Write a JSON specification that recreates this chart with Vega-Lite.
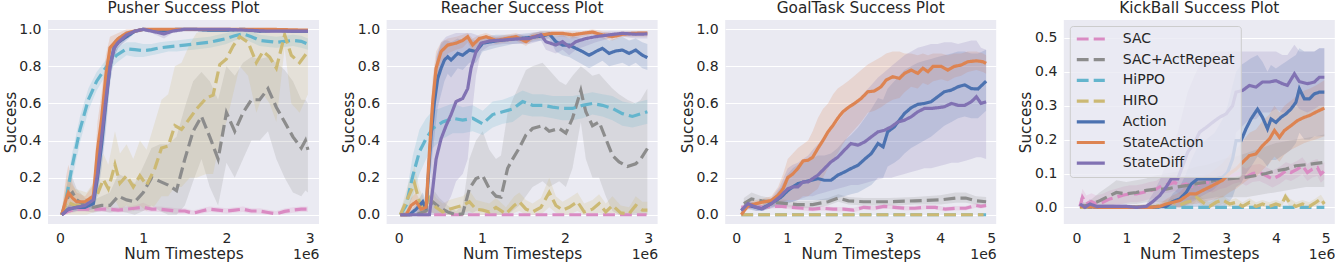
{
"$schema": "https://vega.github.io/schema/vega-lite/v6.json",
"background": "white",
"padding": {"left": 3, "top": 0, "right": 0, "bottom": 0},
"autosize": {"type": "pad"},
"bounds": "flush",
"spacing": 67.6,
"datasets": {
"P": [
{"s":"SAC","t":0.02,"m":0,"l":0,"h":0.015},{"s":"SAC","t":0.1,"m":0.02,"l":0.005,"h":0.035},{"s":"SAC","t":0.2,"m":0.03,"l":0.015,"h":0.045},{"s":"SAC","t":0.3,"m":0.03,"l":0.015,"h":0.045},{"s":"SAC","t":0.4,"m":0.03,"l":0.015,"h":0.045},{"s":"SAC","t":0.5,"m":0.03,"l":0.015,"h":0.045},{"s":"SAC","t":0.6,"m":0.03,"l":0.015,"h":0.045},{"s":"SAC","t":0.7,"m":0.025,"l":0.01,"h":0.04},{"s":"SAC","t":0.8,"m":0.03,"l":0.015,"h":0.045},{"s":"SAC","t":0.9,"m":0.035,"l":0.02,"h":0.05},{"s":"SAC","t":1.0,"m":0.04,"l":0.02,"h":0.065},{"s":"SAC","t":1.1,"m":0.03,"l":0.015,"h":0.045},{"s":"SAC","t":1.2,"m":0.03,"l":0.015,"h":0.045},{"s":"SAC","t":1.3,"m":0.025,"l":0.01,"h":0.04},{"s":"SAC","t":1.4,"m":0.02,"l":0.005,"h":0.035},{"s":"SAC","t":1.5,"m":0.02,"l":0.005,"h":0.035},{"s":"SAC","t":1.6,"m":0.008,"l":0,"h":0.023},{"s":"SAC","t":1.7,"m":0.02,"l":0.005,"h":0.035},{"s":"SAC","t":1.8,"m":0.03,"l":0.015,"h":0.045},{"s":"SAC","t":1.9,"m":0.025,"l":0.01,"h":0.04},{"s":"SAC","t":2.0,"m":0.02,"l":0.005,"h":0.035},{"s":"SAC","t":2.1,"m":0.025,"l":0.01,"h":0.04},{"s":"SAC","t":2.2,"m":0.03,"l":0.015,"h":0.045},{"s":"SAC","t":2.3,"m":0.02,"l":0.005,"h":0.035},{"s":"SAC","t":2.4,"m":0.02,"l":0.005,"h":0.035},{"s":"SAC","t":2.5,"m":0.012,"l":0,"h":0.027},{"s":"SAC","t":2.6,"m":0.005,"l":0,"h":0.02},{"s":"SAC","t":2.7,"m":0.018,"l":0.003,"h":0.033},{"s":"SAC","t":2.8,"m":0.025,"l":0.01,"h":0.04},{"s":"SAC","t":2.9,"m":0.03,"l":0.015,"h":0.045},{"s":"SAC","t":2.98,"m":0.03,"l":0.015,"h":0.045},
{"s":"SAC+ActRepeat","t":0.02,"m":0,"l":0,"h":0.02},{"s":"SAC+ActRepeat","t":0.1,"m":0.1,"l":0.03,"h":0.2},{"s":"SAC+ActRepeat","t":0.15,"m":0.12,"l":0.05,"h":0.2},{"s":"SAC+ActRepeat","t":0.2,"m":0.08,"l":0.03,"h":0.14},{"s":"SAC+ActRepeat","t":0.3,"m":0.05,"l":0.02,"h":0.09},{"s":"SAC+ActRepeat","t":0.4,"m":0.04,"l":0.01,"h":0.08},{"s":"SAC+ActRepeat","t":0.5,"m":0.05,"l":0.02,"h":0.1},{"s":"SAC+ActRepeat","t":0.6,"m":0.05,"l":0.01,"h":0.12},{"s":"SAC+ActRepeat","t":0.7,"m":0.1,"l":0.02,"h":0.22},{"s":"SAC+ActRepeat","t":0.8,"m":0.08,"l":0.01,"h":0.2},{"s":"SAC+ActRepeat","t":0.9,"m":0.07,"l":0,"h":0.17},{"s":"SAC+ActRepeat","t":1.0,"m":0.12,"l":0.02,"h":0.26},{"s":"SAC+ActRepeat","t":1.1,"m":0.2,"l":0.05,"h":0.36},{"s":"SAC+ActRepeat","t":1.2,"m":0.18,"l":0.02,"h":0.38},{"s":"SAC+ActRepeat","t":1.3,"m":0.16,"l":0,"h":0.38},{"s":"SAC+ActRepeat","t":1.4,"m":0.13,"l":0,"h":0.42},{"s":"SAC+ActRepeat","t":1.5,"m":0.3,"l":0.05,"h":0.58},{"s":"SAC+ActRepeat","t":1.6,"m":0.45,"l":0.18,"h":0.72},{"s":"SAC+ActRepeat","t":1.7,"m":0.53,"l":0.3,"h":0.77},{"s":"SAC+ActRepeat","t":1.8,"m":0.42,"l":0.15,"h":0.72},{"s":"SAC+ActRepeat","t":1.9,"m":0.3,"l":0.05,"h":0.62},{"s":"SAC+ActRepeat","t":2.0,"m":0.55,"l":0.28,"h":0.8},{"s":"SAC+ActRepeat","t":2.1,"m":0.45,"l":0.2,"h":0.75},{"s":"SAC+ActRepeat","t":2.2,"m":0.55,"l":0.3,"h":0.82},{"s":"SAC+ActRepeat","t":2.3,"m":0.62,"l":0.4,"h":0.85},{"s":"SAC+ActRepeat","t":2.4,"m":0.62,"l":0.4,"h":0.84},{"s":"SAC+ActRepeat","t":2.5,"m":0.68,"l":0.45,"h":0.85},{"s":"SAC+ActRepeat","t":2.6,"m":0.58,"l":0.3,"h":0.82},{"s":"SAC+ActRepeat","t":2.7,"m":0.5,"l":0.2,"h":0.78},{"s":"SAC+ActRepeat","t":2.8,"m":0.42,"l":0.12,"h":0.72},{"s":"SAC+ActRepeat","t":2.9,"m":0.36,"l":0.1,"h":0.62},{"s":"SAC+ActRepeat","t":2.95,"m":0.4,"l":0.13,"h":0.62},{"s":"SAC+ActRepeat","t":2.98,"m":0.35,"l":0.12,"h":0.6},
{"s":"HiPPO","t":0.02,"m":0,"l":0,"h":0.02},{"s":"HiPPO","t":0.06,"m":0.05,"l":0.02,"h":0.09},{"s":"HiPPO","t":0.14,"m":0.25,"l":0.18,"h":0.32},{"s":"HiPPO","t":0.24,"m":0.46,"l":0.39,"h":0.53},{"s":"HiPPO","t":0.34,"m":0.62,"l":0.56,"h":0.68},{"s":"HiPPO","t":0.44,"m":0.72,"l":0.67,"h":0.77},{"s":"HiPPO","t":0.56,"m":0.8,"l":0.76,"h":0.84},{"s":"HiPPO","t":0.68,"m":0.86,"l":0.82,"h":0.9},{"s":"HiPPO","t":0.8,"m":0.895,"l":0.86,"h":0.93},{"s":"HiPPO","t":0.9,"m":0.89,"l":0.85,"h":0.93},{"s":"HiPPO","t":1.0,"m":0.885,"l":0.85,"h":0.92},{"s":"HiPPO","t":1.1,"m":0.89,"l":0.86,"h":0.92},{"s":"HiPPO","t":1.2,"m":0.9,"l":0.87,"h":0.93},{"s":"HiPPO","t":1.3,"m":0.905,"l":0.88,"h":0.935},{"s":"HiPPO","t":1.4,"m":0.91,"l":0.88,"h":0.94},{"s":"HiPPO","t":1.5,"m":0.915,"l":0.885,"h":0.945},{"s":"HiPPO","t":1.6,"m":0.92,"l":0.89,"h":0.95},{"s":"HiPPO","t":1.7,"m":0.925,"l":0.895,"h":0.955},{"s":"HiPPO","t":1.8,"m":0.93,"l":0.9,"h":0.96},{"s":"HiPPO","t":1.9,"m":0.94,"l":0.91,"h":0.97},{"s":"HiPPO","t":2.0,"m":0.95,"l":0.92,"h":0.98},{"s":"HiPPO","t":2.1,"m":0.965,"l":0.94,"h":0.99},{"s":"HiPPO","t":2.2,"m":0.975,"l":0.95,"h":1.0},{"s":"HiPPO","t":2.3,"m":0.96,"l":0.93,"h":0.99},{"s":"HiPPO","t":2.4,"m":0.94,"l":0.91,"h":0.97},{"s":"HiPPO","t":2.5,"m":0.935,"l":0.905,"h":0.965},{"s":"HiPPO","t":2.6,"m":0.93,"l":0.9,"h":0.96},{"s":"HiPPO","t":2.7,"m":0.935,"l":0.905,"h":0.965},{"s":"HiPPO","t":2.8,"m":0.94,"l":0.91,"h":0.97},{"s":"HiPPO","t":2.9,"m":0.935,"l":0.9,"h":0.965},{"s":"HiPPO","t":2.98,"m":0.92,"l":0.89,"h":0.95},
{"s":"HIRO","t":0.02,"m":0,"l":0,"h":0.02},{"s":"HIRO","t":0.08,"m":0.07,"l":0,"h":0.2},{"s":"HIRO","t":0.18,"m":0.05,"l":0,"h":0.14},{"s":"HIRO","t":0.32,"m":0.05,"l":0,"h":0.12},{"s":"HIRO","t":0.44,"m":0.1,"l":0.02,"h":0.2},{"s":"HIRO","t":0.52,"m":0.19,"l":0.05,"h":0.33},{"s":"HIRO","t":0.58,"m":0.14,"l":0.03,"h":0.27},{"s":"HIRO","t":0.66,"m":0.27,"l":0.08,"h":0.45},{"s":"HIRO","t":0.72,"m":0.17,"l":0.03,"h":0.33},{"s":"HIRO","t":0.8,"m":0.21,"l":0.05,"h":0.38},{"s":"HIRO","t":0.88,"m":0.15,"l":0.02,"h":0.3},{"s":"HIRO","t":0.96,"m":0.21,"l":0.05,"h":0.4},{"s":"HIRO","t":1.04,"m":0.16,"l":0.02,"h":0.35},{"s":"HIRO","t":1.14,"m":0.25,"l":0.05,"h":0.5},{"s":"HIRO","t":1.22,"m":0.36,"l":0.1,"h":0.62},{"s":"HIRO","t":1.3,"m":0.37,"l":0.1,"h":0.65},{"s":"HIRO","t":1.38,"m":0.48,"l":0.15,"h":0.8},{"s":"HIRO","t":1.46,"m":0.46,"l":0.15,"h":0.82},{"s":"HIRO","t":1.56,"m":0.52,"l":0.2,"h":0.92},{"s":"HIRO","t":1.64,"m":0.57,"l":0.2,"h":0.98},{"s":"HIRO","t":1.76,"m":0.63,"l":0.22,"h":1.0},{"s":"HIRO","t":1.84,"m":0.645,"l":0.22,"h":1.0},{"s":"HIRO","t":1.92,"m":0.81,"l":0.4,"h":1.0},{"s":"HIRO","t":2.0,"m":0.84,"l":0.5,"h":1.0},{"s":"HIRO","t":2.08,"m":0.91,"l":0.65,"h":1.0},{"s":"HIRO","t":2.16,"m":0.96,"l":0.8,"h":1.0},{"s":"HIRO","t":2.26,"m":0.93,"l":0.75,"h":1.0},{"s":"HIRO","t":2.36,"m":0.82,"l":0.55,"h":1.0},{"s":"HIRO","t":2.44,"m":0.88,"l":0.65,"h":1.0},{"s":"HIRO","t":2.52,"m":0.85,"l":0.6,"h":1.0},{"s":"HIRO","t":2.6,"m":0.79,"l":0.5,"h":1.0},{"s":"HIRO","t":2.7,"m":0.97,"l":0.9,"h":1.0},{"s":"HIRO","t":2.78,"m":0.86,"l":0.6,"h":1.0},{"s":"HIRO","t":2.88,"m":0.82,"l":0.55,"h":1.0},{"s":"HIRO","t":2.98,"m":0.88,"l":0.65,"h":1.0},
{"s":"Action","t":0.02,"m":0,"l":0,"h":0.01},{"s":"Action","t":0.1,"m":0.03,"l":0.01,"h":0.05},{"s":"Action","t":0.2,"m":0.04,"l":0.02,"h":0.06},{"s":"Action","t":0.3,"m":0.04,"l":0.02,"h":0.06},{"s":"Action","t":0.4,"m":0.06,"l":0.03,"h":0.1},{"s":"Action","t":0.45,"m":0.2,"l":0.1,"h":0.3},{"s":"Action","t":0.5,"m":0.38,"l":0.25,"h":0.5},{"s":"Action","t":0.55,"m":0.6,"l":0.45,"h":0.75},{"s":"Action","t":0.6,"m":0.8,"l":0.7,"h":0.88},{"s":"Action","t":0.65,"m":0.9,"l":0.85,"h":0.94},{"s":"Action","t":0.7,"m":0.93,"l":0.9,"h":0.96},{"s":"Action","t":0.8,"m":0.96,"l":0.94,"h":0.98},{"s":"Action","t":0.9,"m":0.99,"l":0.98,"h":1.0},{"s":"Action","t":1.0,"m":1.0,"l":0.99,"h":1.0},{"s":"Action","t":1.2,"m":0.99,"l":0.98,"h":1.0},{"s":"Action","t":1.4,"m":1.0,"l":0.99,"h":1.0},{"s":"Action","t":1.6,"m":1.0,"l":0.99,"h":1.0},{"s":"Action","t":1.8,"m":0.995,"l":0.985,"h":1.0},{"s":"Action","t":2.0,"m":0.995,"l":0.985,"h":1.0},{"s":"Action","t":2.2,"m":1.0,"l":0.99,"h":1.0},{"s":"Action","t":2.4,"m":0.99,"l":0.98,"h":1.0},{"s":"Action","t":2.6,"m":0.995,"l":0.985,"h":1.0},{"s":"Action","t":2.8,"m":0.99,"l":0.98,"h":1.0},{"s":"Action","t":2.98,"m":0.99,"l":0.98,"h":1.0},
{"s":"StateAction","t":0.02,"m":0,"l":0,"h":0.02},{"s":"StateAction","t":0.07,"m":0.08,"l":0.02,"h":0.2},{"s":"StateAction","t":0.1,"m":0.12,"l":0.03,"h":0.27},{"s":"StateAction","t":0.15,"m":0.09,"l":0.03,"h":0.17},{"s":"StateAction","t":0.2,"m":0.07,"l":0.03,"h":0.12},{"s":"StateAction","t":0.3,"m":0.07,"l":0.04,"h":0.1},{"s":"StateAction","t":0.4,"m":0.1,"l":0.05,"h":0.16},{"s":"StateAction","t":0.45,"m":0.35,"l":0.2,"h":0.5},{"s":"StateAction","t":0.5,"m":0.52,"l":0.38,"h":0.66},{"s":"StateAction","t":0.55,"m":0.75,"l":0.62,"h":0.86},{"s":"StateAction","t":0.6,"m":0.9,"l":0.83,"h":0.96},{"s":"StateAction","t":0.7,"m":0.95,"l":0.92,"h":0.98},{"s":"StateAction","t":0.8,"m":0.98,"l":0.96,"h":1.0},{"s":"StateAction","t":0.9,"m":0.99,"l":0.98,"h":1.0},{"s":"StateAction","t":1.0,"m":1.0,"l":0.99,"h":1.0},{"s":"StateAction","t":1.5,"m":1.0,"l":0.99,"h":1.0},{"s":"StateAction","t":2.0,"m":1.0,"l":0.99,"h":1.0},{"s":"StateAction","t":2.5,"m":1.0,"l":0.99,"h":1.0},{"s":"StateAction","t":2.98,"m":0.995,"l":0.985,"h":1.0},
{"s":"StateDiff","t":0.02,"m":0,"l":0,"h":0.01},{"s":"StateDiff","t":0.1,"m":0.03,"l":0.01,"h":0.05},{"s":"StateDiff","t":0.2,"m":0.04,"l":0.02,"h":0.06},{"s":"StateDiff","t":0.3,"m":0.05,"l":0.03,"h":0.07},{"s":"StateDiff","t":0.4,"m":0.08,"l":0.04,"h":0.12},{"s":"StateDiff","t":0.45,"m":0.22,"l":0.12,"h":0.32},{"s":"StateDiff","t":0.5,"m":0.42,"l":0.3,"h":0.54},{"s":"StateDiff","t":0.55,"m":0.62,"l":0.5,"h":0.74},{"s":"StateDiff","t":0.6,"m":0.8,"l":0.72,"h":0.88},{"s":"StateDiff","t":0.65,"m":0.9,"l":0.85,"h":0.94},{"s":"StateDiff","t":0.7,"m":0.93,"l":0.9,"h":0.96},{"s":"StateDiff","t":0.8,"m":0.97,"l":0.95,"h":0.99},{"s":"StateDiff","t":0.9,"m":0.99,"l":0.98,"h":1.0},{"s":"StateDiff","t":1.0,"m":1.0,"l":0.99,"h":1.0},{"s":"StateDiff","t":1.1,"m":0.99,"l":0.98,"h":1.0},{"s":"StateDiff","t":1.25,"m":0.975,"l":0.95,"h":1.0},{"s":"StateDiff","t":1.35,"m":0.99,"l":0.98,"h":1.0},{"s":"StateDiff","t":1.5,"m":1.0,"l":0.99,"h":1.0},{"s":"StateDiff","t":2.0,"m":1.0,"l":0.99,"h":1.0},{"s":"StateDiff","t":2.5,"m":0.99,"l":0.98,"h":1.0},{"s":"StateDiff","t":2.98,"m":0.99,"l":0.98,"h":1.0}
],
"R": [
{"s":"SAC","t":0.02,"m":0,"l":0,"h":0.004},{"s":"SAC","t":1.0,"m":0,"l":0,"h":0.004},{"s":"SAC","t":2.0,"m":0,"l":0,"h":0.004},{"s":"SAC","t":2.98,"m":0,"l":0,"h":0.004},
{"s":"SAC+ActRepeat","t":0.02,"m":0,"l":0,"h":0.01},{"s":"SAC+ActRepeat","t":0.21,"m":0,"l":0,"h":0.01},{"s":"SAC+ActRepeat","t":0.33,"m":0.02,"l":0,"h":0.05},{"s":"SAC+ActRepeat","t":0.41,"m":0.07,"l":0.01,"h":0.14},{"s":"SAC+ActRepeat","t":0.49,"m":0.04,"l":0,"h":0.09},{"s":"SAC+ActRepeat","t":0.59,"m":0.015,"l":0,"h":0.05},{"s":"SAC+ActRepeat","t":0.69,"m":0,"l":0,"h":0.02},{"s":"SAC+ActRepeat","t":0.77,"m":0.005,"l":0,"h":0.05},{"s":"SAC+ActRepeat","t":0.85,"m":0.14,"l":0,"h":0.3},{"s":"SAC+ActRepeat","t":0.93,"m":0.195,"l":0.02,"h":0.4},{"s":"SAC+ActRepeat","t":1.01,"m":0.21,"l":0.03,"h":0.45},{"s":"SAC+ActRepeat","t":1.09,"m":0.14,"l":0,"h":0.35},{"s":"SAC+ActRepeat","t":1.17,"m":0.1,"l":0,"h":0.3},{"s":"SAC+ActRepeat","t":1.23,"m":0.095,"l":0,"h":0.32},{"s":"SAC+ActRepeat","t":1.31,"m":0.25,"l":0,"h":0.55},{"s":"SAC+ActRepeat","t":1.37,"m":0.3,"l":0.02,"h":0.62},{"s":"SAC+ActRepeat","t":1.45,"m":0.36,"l":0.05,"h":0.7},{"s":"SAC+ActRepeat","t":1.53,"m":0.43,"l":0.1,"h":0.78},{"s":"SAC+ActRepeat","t":1.61,"m":0.465,"l":0.15,"h":0.8},{"s":"SAC+ActRepeat","t":1.73,"m":0.48,"l":0.18,"h":0.82},{"s":"SAC+ActRepeat","t":1.81,"m":0.45,"l":0.15,"h":0.78},{"s":"SAC+ActRepeat","t":1.93,"m":0.465,"l":0.18,"h":0.72},{"s":"SAC+ActRepeat","t":2.01,"m":0.44,"l":0.15,"h":0.7},{"s":"SAC+ActRepeat","t":2.09,"m":0.52,"l":0.25,"h":0.75},{"s":"SAC+ActRepeat","t":2.19,"m":0.67,"l":0.5,"h":0.8},{"s":"SAC+ActRepeat","t":2.25,"m":0.555,"l":0.3,"h":0.78},{"s":"SAC+ActRepeat","t":2.33,"m":0.48,"l":0.2,"h":0.75},{"s":"SAC+ActRepeat","t":2.41,"m":0.5,"l":0.2,"h":0.76},{"s":"SAC+ActRepeat","t":2.49,"m":0.41,"l":0.1,"h":0.72},{"s":"SAC+ActRepeat","t":2.57,"m":0.32,"l":0.02,"h":0.68},{"s":"SAC+ActRepeat","t":2.65,"m":0.285,"l":0,"h":0.65},{"s":"SAC+ActRepeat","t":2.75,"m":0.26,"l":0,"h":0.62},{"s":"SAC+ActRepeat","t":2.85,"m":0.275,"l":0,"h":0.6},{"s":"SAC+ActRepeat","t":2.91,"m":0.3,"l":0,"h":0.62},{"s":"SAC+ActRepeat","t":2.99,"m":0.357,"l":0,"h":0.68},
{"s":"HiPPO","t":0.02,"m":0,"l":0,"h":0.02},{"s":"HiPPO","t":0.09,"m":0.05,"l":0.01,"h":0.1},{"s":"HiPPO","t":0.17,"m":0.21,"l":0.1,"h":0.32},{"s":"HiPPO","t":0.25,"m":0.34,"l":0.22,"h":0.46},{"s":"HiPPO","t":0.33,"m":0.41,"l":0.3,"h":0.52},{"s":"HiPPO","t":0.41,"m":0.465,"l":0.36,"h":0.56},{"s":"HiPPO","t":0.53,"m":0.5,"l":0.41,"h":0.58},{"s":"HiPPO","t":0.65,"m":0.52,"l":0.44,"h":0.6},{"s":"HiPPO","t":0.77,"m":0.51,"l":0.44,"h":0.58},{"s":"HiPPO","t":0.89,"m":0.52,"l":0.45,"h":0.59},{"s":"HiPPO","t":1.01,"m":0.49,"l":0.43,"h":0.56},{"s":"HiPPO","t":1.13,"m":0.54,"l":0.47,"h":0.61},{"s":"HiPPO","t":1.25,"m":0.555,"l":0.49,"h":0.62},{"s":"HiPPO","t":1.37,"m":0.57,"l":0.5,"h":0.64},{"s":"HiPPO","t":1.49,"m":0.61,"l":0.54,"h":0.67},{"s":"HiPPO","t":1.61,"m":0.59,"l":0.53,"h":0.65},{"s":"HiPPO","t":1.73,"m":0.59,"l":0.53,"h":0.65},{"s":"HiPPO","t":1.85,"m":0.58,"l":0.52,"h":0.64},{"s":"HiPPO","t":1.97,"m":0.573,"l":0.51,"h":0.64},{"s":"HiPPO","t":2.09,"m":0.573,"l":0.51,"h":0.64},{"s":"HiPPO","t":2.21,"m":0.59,"l":0.52,"h":0.65},{"s":"HiPPO","t":2.33,"m":0.6,"l":0.54,"h":0.66},{"s":"HiPPO","t":2.45,"m":0.59,"l":0.53,"h":0.65},{"s":"HiPPO","t":2.57,"m":0.573,"l":0.51,"h":0.64},{"s":"HiPPO","t":2.69,"m":0.545,"l":0.48,"h":0.61},{"s":"HiPPO","t":2.81,"m":0.53,"l":0.47,"h":0.6},{"s":"HiPPO","t":2.99,"m":0.555,"l":0.49,"h":0.62},
{"s":"HIRO","t":0.02,"m":0,"l":0,"h":0.02},{"s":"HIRO","t":0.11,"m":0.09,"l":0.02,"h":0.16},{"s":"HIRO","t":0.19,"m":0.17,"l":0.08,"h":0.26},{"s":"HIRO","t":0.25,"m":0.07,"l":0.01,"h":0.14},{"s":"HIRO","t":0.31,"m":0.03,"l":0,"h":0.08},{"s":"HIRO","t":0.37,"m":0.09,"l":0.02,"h":0.16},{"s":"HIRO","t":0.45,"m":0.04,"l":0,"h":0.09},{"s":"HIRO","t":0.53,"m":0.015,"l":0,"h":0.06},{"s":"HIRO","t":0.61,"m":0.03,"l":0,"h":0.08},{"s":"HIRO","t":0.69,"m":0.04,"l":0,"h":0.09},{"s":"HIRO","t":0.77,"m":0.05,"l":0.01,"h":0.1},{"s":"HIRO","t":0.85,"m":0.07,"l":0.02,"h":0.13},{"s":"HIRO","t":0.93,"m":0.03,"l":0,"h":0.08},{"s":"HIRO","t":1.01,"m":0.025,"l":0,"h":0.07},{"s":"HIRO","t":1.09,"m":0.015,"l":0,"h":0.06},{"s":"HIRO","t":1.17,"m":0.04,"l":0,"h":0.09},{"s":"HIRO","t":1.29,"m":0.005,"l":0,"h":0.04},{"s":"HIRO","t":1.39,"m":0.05,"l":0.01,"h":0.1},{"s":"HIRO","t":1.45,"m":0.07,"l":0.02,"h":0.12},{"s":"HIRO","t":1.53,"m":0.03,"l":0,"h":0.08},{"s":"HIRO","t":1.61,"m":0.015,"l":0,"h":0.06},{"s":"HIRO","t":1.71,"m":0.04,"l":0,"h":0.09},{"s":"HIRO","t":1.81,"m":0.12,"l":0.04,"h":0.2},{"s":"HIRO","t":1.89,"m":0.05,"l":0.01,"h":0.1},{"s":"HIRO","t":1.97,"m":0.025,"l":0,"h":0.07},{"s":"HIRO","t":2.05,"m":0.04,"l":0,"h":0.09},{"s":"HIRO","t":2.15,"m":0.07,"l":0.02,"h":0.12},{"s":"HIRO","t":2.23,"m":0.015,"l":0,"h":0.06},{"s":"HIRO","t":2.33,"m":0.03,"l":0,"h":0.08},{"s":"HIRO","t":2.41,"m":0.06,"l":0.01,"h":0.11},{"s":"HIRO","t":2.49,"m":0.015,"l":0,"h":0.06},{"s":"HIRO","t":2.57,"m":0.05,"l":0.01,"h":0.1},{"s":"HIRO","t":2.67,"m":0.01,"l":0,"h":0.05},{"s":"HIRO","t":2.77,"m":0.005,"l":0,"h":0.04},{"s":"HIRO","t":2.85,"m":0.05,"l":0.01,"h":0.1},{"s":"HIRO","t":2.93,"m":0.025,"l":0,"h":0.07},{"s":"HIRO","t":2.99,"m":0.025,"l":0,"h":0.07},
{"s":"Action","t":0.02,"m":0,"l":0,"h":0.01},{"s":"Action","t":0.13,"m":0,"l":0,"h":0.01},{"s":"Action","t":0.21,"m":0.03,"l":0,"h":0.06},{"s":"Action","t":0.29,"m":0.07,"l":0.02,"h":0.12},{"s":"Action","t":0.33,"m":0.03,"l":0,"h":0.07},{"s":"Action","t":0.39,"m":0.43,"l":0.25,"h":0.6},{"s":"Action","t":0.43,"m":0.61,"l":0.42,"h":0.78},{"s":"Action","t":0.47,"m":0.735,"l":0.58,"h":0.87},{"s":"Action","t":0.51,"m":0.79,"l":0.65,"h":0.92},{"s":"Action","t":0.55,"m":0.834,"l":0.72,"h":0.94},{"s":"Action","t":0.59,"m":0.852,"l":0.76,"h":0.94},{"s":"Action","t":0.63,"m":0.834,"l":0.74,"h":0.93},{"s":"Action","t":0.71,"m":0.87,"l":0.79,"h":0.95},{"s":"Action","t":0.77,"m":0.86,"l":0.78,"h":0.94},{"s":"Action","t":0.85,"m":0.888,"l":0.82,"h":0.95},{"s":"Action","t":0.93,"m":0.88,"l":0.82,"h":0.94},{"s":"Action","t":1.01,"m":0.925,"l":0.88,"h":0.96},{"s":"Action","t":1.17,"m":0.937,"l":0.9,"h":0.97},{"s":"Action","t":1.37,"m":0.948,"l":0.92,"h":0.97},{"s":"Action","t":1.57,"m":0.955,"l":0.93,"h":0.98},{"s":"Action","t":1.73,"m":0.964,"l":0.94,"h":0.99},{"s":"Action","t":1.81,"m":0.975,"l":0.95,"h":0.99},{"s":"Action","t":1.89,"m":0.933,"l":0.88,"h":0.98},{"s":"Action","t":1.97,"m":0.915,"l":0.86,"h":0.97},{"s":"Action","t":2.05,"m":0.915,"l":0.85,"h":0.97},{"s":"Action","t":2.13,"m":0.897,"l":0.83,"h":0.96},{"s":"Action","t":2.21,"m":0.88,"l":0.81,"h":0.95},{"s":"Action","t":2.29,"m":0.86,"l":0.79,"h":0.94},{"s":"Action","t":2.37,"m":0.88,"l":0.81,"h":0.95},{"s":"Action","t":2.45,"m":0.897,"l":0.83,"h":0.96},{"s":"Action","t":2.53,"m":0.87,"l":0.8,"h":0.94},{"s":"Action","t":2.61,"m":0.883,"l":0.81,"h":0.95},{"s":"Action","t":2.69,"m":0.888,"l":0.82,"h":0.96},{"s":"Action","t":2.77,"m":0.87,"l":0.8,"h":0.94},{"s":"Action","t":2.85,"m":0.888,"l":0.82,"h":0.95},{"s":"Action","t":2.93,"m":0.86,"l":0.79,"h":0.93},{"s":"Action","t":2.99,"m":0.847,"l":0.78,"h":0.92},
{"s":"StateAction","t":0.02,"m":0,"l":0,"h":0.01},{"s":"StateAction","t":0.09,"m":0,"l":0,"h":0.01},{"s":"StateAction","t":0.15,"m":0.05,"l":0.01,"h":0.09},{"s":"StateAction","t":0.21,"m":0.07,"l":0.02,"h":0.12},{"s":"StateAction","t":0.27,"m":0.03,"l":0,"h":0.06},{"s":"StateAction","t":0.33,"m":0.04,"l":0,"h":0.08},{"s":"StateAction","t":0.37,"m":0.34,"l":0.2,"h":0.48},{"s":"StateAction","t":0.41,"m":0.61,"l":0.48,"h":0.74},{"s":"StateAction","t":0.45,"m":0.79,"l":0.7,"h":0.88},{"s":"StateAction","t":0.51,"m":0.88,"l":0.82,"h":0.93},{"s":"StateAction","t":0.59,"m":0.915,"l":0.87,"h":0.95},{"s":"StateAction","t":0.69,"m":0.925,"l":0.89,"h":0.96},{"s":"StateAction","t":0.77,"m":0.94,"l":0.9,"h":0.97},{"s":"StateAction","t":0.83,"m":0.96,"l":0.93,"h":0.98},{"s":"StateAction","t":0.89,"m":0.915,"l":0.88,"h":0.95},{"s":"StateAction","t":0.97,"m":0.95,"l":0.92,"h":0.97},{"s":"StateAction","t":1.05,"m":0.96,"l":0.94,"h":0.98},{"s":"StateAction","t":1.17,"m":0.94,"l":0.92,"h":0.96},{"s":"StateAction","t":1.29,"m":0.95,"l":0.93,"h":0.97},{"s":"StateAction","t":1.41,"m":0.96,"l":0.94,"h":0.98},{"s":"StateAction","t":1.53,"m":0.933,"l":0.91,"h":0.96},{"s":"StateAction","t":1.61,"m":0.96,"l":0.94,"h":0.98},{"s":"StateAction","t":1.73,"m":0.97,"l":0.95,"h":0.99},{"s":"StateAction","t":1.85,"m":0.978,"l":0.96,"h":0.99},{"s":"StateAction","t":1.97,"m":0.978,"l":0.96,"h":0.99},{"s":"StateAction","t":2.09,"m":0.97,"l":0.95,"h":0.99},{"s":"StateAction","t":2.21,"m":0.978,"l":0.96,"h":0.99},{"s":"StateAction","t":2.33,"m":0.985,"l":0.97,"h":1.0},{"s":"StateAction","t":2.45,"m":0.97,"l":0.95,"h":0.99},{"s":"StateAction","t":2.57,"m":0.96,"l":0.94,"h":0.98},{"s":"StateAction","t":2.69,"m":0.973,"l":0.96,"h":0.99},{"s":"StateAction","t":2.81,"m":0.978,"l":0.96,"h":0.99},{"s":"StateAction","t":2.99,"m":0.98,"l":0.96,"h":0.99},
{"s":"StateDiff","t":0.02,"m":0,"l":0,"h":0.01},{"s":"StateDiff","t":0.37,"m":0,"l":0,"h":0.05},{"s":"StateDiff","t":0.41,"m":0.14,"l":0,"h":0.5},{"s":"StateDiff","t":0.45,"m":0.3,"l":0,"h":0.85},{"s":"StateDiff","t":0.51,"m":0.41,"l":0,"h":0.93},{"s":"StateDiff","t":0.57,"m":0.48,"l":0.05,"h":0.96},{"s":"StateDiff","t":0.63,"m":0.54,"l":0.1,"h":0.97},{"s":"StateDiff","t":0.69,"m":0.61,"l":0.18,"h":0.98},{"s":"StateDiff","t":0.77,"m":0.627,"l":0.22,"h":0.98},{"s":"StateDiff","t":0.83,"m":0.68,"l":0.3,"h":0.98},{"s":"StateDiff","t":0.87,"m":0.79,"l":0.5,"h":0.98},{"s":"StateDiff","t":0.93,"m":0.88,"l":0.75,"h":0.97},{"s":"StateDiff","t":0.99,"m":0.925,"l":0.88,"h":0.96},{"s":"StateDiff","t":1.09,"m":0.937,"l":0.91,"h":0.96},{"s":"StateDiff","t":1.25,"m":0.942,"l":0.92,"h":0.96},{"s":"StateDiff","t":1.41,"m":0.948,"l":0.92,"h":0.97},{"s":"StateDiff","t":1.57,"m":0.95,"l":0.92,"h":0.97},{"s":"StateDiff","t":1.71,"m":0.97,"l":0.94,"h":0.99},{"s":"StateDiff","t":1.77,"m":0.933,"l":0.89,"h":0.97},{"s":"StateDiff","t":1.89,"m":0.915,"l":0.87,"h":0.96},{"s":"StateDiff","t":1.97,"m":0.933,"l":0.89,"h":0.97},{"s":"StateDiff","t":2.05,"m":0.906,"l":0.86,"h":0.95},{"s":"StateDiff","t":2.13,"m":0.933,"l":0.89,"h":0.97},{"s":"StateDiff","t":2.25,"m":0.95,"l":0.91,"h":0.98},{"s":"StateDiff","t":2.37,"m":0.96,"l":0.93,"h":0.98},{"s":"StateDiff","t":2.53,"m":0.97,"l":0.95,"h":0.99},{"s":"StateDiff","t":2.69,"m":0.978,"l":0.96,"h":0.99},{"s":"StateDiff","t":2.85,"m":0.973,"l":0.95,"h":0.99},{"s":"StateDiff","t":2.99,"m":0.975,"l":0.95,"h":0.99}
],
"G": [
{"s":"SAC","t":0.1,"m":0.04,"l":0.028,"h":0.052},{"s":"SAC","t":0.3,"m":0.045,"l":0.033,"h":0.057},{"s":"SAC","t":0.5,"m":0.04,"l":0.028,"h":0.052},{"s":"SAC","t":0.7,"m":0.045,"l":0.033,"h":0.057},{"s":"SAC","t":0.9,"m":0.045,"l":0.033,"h":0.057},{"s":"SAC","t":1.1,"m":0.04,"l":0.028,"h":0.052},{"s":"SAC","t":1.3,"m":0.035,"l":0.023,"h":0.047},{"s":"SAC","t":1.5,"m":0.03,"l":0.018,"h":0.042},{"s":"SAC","t":1.7,"m":0.035,"l":0.023,"h":0.047},{"s":"SAC","t":1.9,"m":0.03,"l":0.018,"h":0.042},{"s":"SAC","t":2.1,"m":0.03,"l":0.018,"h":0.042},{"s":"SAC","t":2.3,"m":0.025,"l":0.013,"h":0.037},{"s":"SAC","t":2.5,"m":0.04,"l":0.028,"h":0.052},{"s":"SAC","t":2.7,"m":0.035,"l":0.023,"h":0.047},{"s":"SAC","t":2.9,"m":0.045,"l":0.033,"h":0.057},{"s":"SAC","t":3.1,"m":0.04,"l":0.028,"h":0.052},{"s":"SAC","t":3.3,"m":0.035,"l":0.023,"h":0.047},{"s":"SAC","t":3.5,"m":0.035,"l":0.023,"h":0.047},{"s":"SAC","t":3.7,"m":0.04,"l":0.028,"h":0.052},{"s":"SAC","t":3.9,"m":0.04,"l":0.028,"h":0.052},{"s":"SAC","t":4.1,"m":0.03,"l":0.018,"h":0.042},{"s":"SAC","t":4.3,"m":0.035,"l":0.023,"h":0.047},{"s":"SAC","t":4.5,"m":0.035,"l":0.023,"h":0.047},{"s":"SAC","t":4.7,"m":0.05,"l":0.038,"h":0.062},{"s":"SAC","t":4.8,"m":0.045,"l":0.033,"h":0.057},{"s":"SAC","t":4.9,"m":0.05,"l":0.038,"h":0.062},
{"s":"SAC+ActRepeat","t":0.15,"m":0.06,"l":0.04,"h":0.09},{"s":"SAC+ActRepeat","t":0.3,"m":0.085,"l":0.06,"h":0.12},{"s":"SAC+ActRepeat","t":0.5,"m":0.075,"l":0.05,"h":0.1},{"s":"SAC+ActRepeat","t":0.8,"m":0.065,"l":0.045,"h":0.085},{"s":"SAC+ActRepeat","t":1.0,"m":0.06,"l":0.04,"h":0.08},{"s":"SAC+ActRepeat","t":1.2,"m":0.055,"l":0.035,"h":0.075},{"s":"SAC+ActRepeat","t":1.5,"m":0.055,"l":0.035,"h":0.075},{"s":"SAC+ActRepeat","t":1.8,"m":0.07,"l":0.05,"h":0.09},{"s":"SAC+ActRepeat","t":2.0,"m":0.09,"l":0.07,"h":0.11},{"s":"SAC+ActRepeat","t":2.2,"m":0.075,"l":0.055,"h":0.095},{"s":"SAC+ActRepeat","t":2.5,"m":0.07,"l":0.05,"h":0.09},{"s":"SAC+ActRepeat","t":3.0,"m":0.07,"l":0.05,"h":0.09},{"s":"SAC+ActRepeat","t":3.5,"m":0.075,"l":0.055,"h":0.095},{"s":"SAC+ActRepeat","t":4.0,"m":0.08,"l":0.055,"h":0.105},{"s":"SAC+ActRepeat","t":4.3,"m":0.09,"l":0.065,"h":0.12},{"s":"SAC+ActRepeat","t":4.5,"m":0.09,"l":0.065,"h":0.12},{"s":"SAC+ActRepeat","t":4.7,"m":0.075,"l":0.055,"h":0.1},{"s":"SAC+ActRepeat","t":4.9,"m":0.07,"l":0.05,"h":0.095},
{"s":"HiPPO","t":0.1,"m":0,"l":0,"h":0},{"s":"HiPPO","t":2.5,"m":0,"l":0,"h":0},{"s":"HiPPO","t":4.9,"m":0,"l":0,"h":0},
{"s":"HIRO","t":0.1,"m":0,"l":0,"h":0},{"s":"HIRO","t":2.5,"m":0,"l":0,"h":0},{"s":"HIRO","t":4.85,"m":0,"l":0,"h":0},
{"s":"Action","t":0.1,"m":0.023,"l":0.01,"h":0.04},{"s":"Action","t":0.23,"m":0.05,"l":0.03,"h":0.07},{"s":"Action","t":0.39,"m":0.04,"l":0.02,"h":0.06},{"s":"Action","t":0.49,"m":0.032,"l":0.02,"h":0.05},{"s":"Action","t":0.62,"m":0.05,"l":0.03,"h":0.07},{"s":"Action","t":0.75,"m":0.072,"l":0.04,"h":0.1},{"s":"Action","t":0.88,"m":0.095,"l":0.05,"h":0.15},{"s":"Action","t":1.01,"m":0.13,"l":0.06,"h":0.22},{"s":"Action","t":1.11,"m":0.15,"l":0.07,"h":0.25},{"s":"Action","t":1.21,"m":0.168,"l":0.08,"h":0.27},{"s":"Action","t":1.34,"m":0.177,"l":0.08,"h":0.28},{"s":"Action","t":1.47,"m":0.186,"l":0.08,"h":0.3},{"s":"Action","t":1.6,"m":0.195,"l":0.08,"h":0.32},{"s":"Action","t":1.73,"m":0.186,"l":0.08,"h":0.32},{"s":"Action","t":1.86,"m":0.186,"l":0.08,"h":0.33},{"s":"Action","t":1.99,"m":0.213,"l":0.09,"h":0.36},{"s":"Action","t":2.12,"m":0.23,"l":0.1,"h":0.4},{"s":"Action","t":2.25,"m":0.249,"l":0.11,"h":0.43},{"s":"Action","t":2.39,"m":0.267,"l":0.12,"h":0.47},{"s":"Action","t":2.52,"m":0.3,"l":0.14,"h":0.52},{"s":"Action","t":2.65,"m":0.33,"l":0.16,"h":0.57},{"s":"Action","t":2.78,"m":0.384,"l":0.2,"h":0.63},{"s":"Action","t":2.88,"m":0.366,"l":0.2,"h":0.62},{"s":"Action","t":2.97,"m":0.447,"l":0.26,"h":0.68},{"s":"Action","t":3.1,"m":0.474,"l":0.28,"h":0.72},{"s":"Action","t":3.2,"m":0.51,"l":0.3,"h":0.75},{"s":"Action","t":3.3,"m":0.546,"l":0.33,"h":0.78},{"s":"Action","t":3.43,"m":0.577,"l":0.36,"h":0.8},{"s":"Action","t":3.56,"m":0.595,"l":0.38,"h":0.82},{"s":"Action","t":3.69,"m":0.6,"l":0.4,"h":0.83},{"s":"Action","t":3.82,"m":0.609,"l":0.42,"h":0.84},{"s":"Action","t":3.95,"m":0.636,"l":0.45,"h":0.85},{"s":"Action","t":4.08,"m":0.663,"l":0.48,"h":0.86},{"s":"Action","t":4.22,"m":0.672,"l":0.5,"h":0.87},{"s":"Action","t":4.35,"m":0.69,"l":0.52,"h":0.88},{"s":"Action","t":4.48,"m":0.7,"l":0.53,"h":0.88},{"s":"Action","t":4.61,"m":0.68,"l":0.52,"h":0.87},{"s":"Action","t":4.74,"m":0.678,"l":0.52,"h":0.87},{"s":"Action","t":4.9,"m":0.72,"l":0.56,"h":0.89},
{"s":"StateAction","t":0.1,"m":0,"l":0,"h":0.01},{"s":"StateAction","t":0.23,"m":0.05,"l":0.03,"h":0.07},{"s":"StateAction","t":0.39,"m":0.06,"l":0.04,"h":0.08},{"s":"StateAction","t":0.56,"m":0.07,"l":0.05,"h":0.09},{"s":"StateAction","t":0.69,"m":0.077,"l":0.05,"h":0.1},{"s":"StateAction","t":0.82,"m":0.105,"l":0.06,"h":0.15},{"s":"StateAction","t":0.92,"m":0.14,"l":0.07,"h":0.22},{"s":"StateAction","t":1.01,"m":0.2,"l":0.08,"h":0.3},{"s":"StateAction","t":1.11,"m":0.22,"l":0.08,"h":0.33},{"s":"StateAction","t":1.21,"m":0.25,"l":0.08,"h":0.36},{"s":"StateAction","t":1.31,"m":0.29,"l":0.1,"h":0.38},{"s":"StateAction","t":1.41,"m":0.294,"l":0.1,"h":0.4},{"s":"StateAction","t":1.5,"m":0.31,"l":0.12,"h":0.45},{"s":"StateAction","t":1.6,"m":0.357,"l":0.14,"h":0.52},{"s":"StateAction","t":1.7,"m":0.4,"l":0.2,"h":0.57},{"s":"StateAction","t":1.8,"m":0.447,"l":0.25,"h":0.6},{"s":"StateAction","t":1.9,"m":0.483,"l":0.3,"h":0.65},{"s":"StateAction","t":1.99,"m":0.52,"l":0.33,"h":0.68},{"s":"StateAction","t":2.09,"m":0.555,"l":0.38,"h":0.7},{"s":"StateAction","t":2.19,"m":0.577,"l":0.42,"h":0.72},{"s":"StateAction","t":2.32,"m":0.6,"l":0.46,"h":0.75},{"s":"StateAction","t":2.45,"m":0.627,"l":0.5,"h":0.78},{"s":"StateAction","t":2.58,"m":0.663,"l":0.55,"h":0.81},{"s":"StateAction","t":2.71,"m":0.667,"l":0.56,"h":0.83},{"s":"StateAction","t":2.84,"m":0.69,"l":0.58,"h":0.85},{"s":"StateAction","t":2.94,"m":0.726,"l":0.6,"h":0.87},{"s":"StateAction","t":3.07,"m":0.744,"l":0.62,"h":0.88},{"s":"StateAction","t":3.2,"m":0.735,"l":0.63,"h":0.88},{"s":"StateAction","t":3.3,"m":0.762,"l":0.66,"h":0.87},{"s":"StateAction","t":3.43,"m":0.78,"l":0.69,"h":0.87},{"s":"StateAction","t":3.56,"m":0.762,"l":0.68,"h":0.86},{"s":"StateAction","t":3.66,"m":0.79,"l":0.71,"h":0.87},{"s":"StateAction","t":3.76,"m":0.771,"l":0.7,"h":0.86},{"s":"StateAction","t":3.86,"m":0.8,"l":0.72,"h":0.87},{"s":"StateAction","t":4.02,"m":0.8,"l":0.73,"h":0.87},{"s":"StateAction","t":4.15,"m":0.78,"l":0.72,"h":0.86},{"s":"StateAction","t":4.28,"m":0.8,"l":0.74,"h":0.87},{"s":"StateAction","t":4.41,"m":0.807,"l":0.75,"h":0.87},{"s":"StateAction","t":4.54,"m":0.825,"l":0.77,"h":0.88},{"s":"StateAction","t":4.71,"m":0.83,"l":0.78,"h":0.88},{"s":"StateAction","t":4.84,"m":0.825,"l":0.77,"h":0.87},{"s":"StateAction","t":4.9,"m":0.816,"l":0.76,"h":0.86},
{"s":"StateDiff","t":0.1,"m":0.023,"l":0.01,"h":0.04},{"s":"StateDiff","t":0.23,"m":0.06,"l":0.04,"h":0.08},{"s":"StateDiff","t":0.39,"m":0.04,"l":0.02,"h":0.06},{"s":"StateDiff","t":0.52,"m":0.032,"l":0.02,"h":0.05},{"s":"StateDiff","t":0.69,"m":0.06,"l":0.04,"h":0.09},{"s":"StateDiff","t":0.85,"m":0.095,"l":0.05,"h":0.15},{"s":"StateDiff","t":1.01,"m":0.14,"l":0.07,"h":0.25},{"s":"StateDiff","t":1.11,"m":0.15,"l":0.07,"h":0.27},{"s":"StateDiff","t":1.21,"m":0.15,"l":0.08,"h":0.28},{"s":"StateDiff","t":1.31,"m":0.177,"l":0.09,"h":0.3},{"s":"StateDiff","t":1.41,"m":0.177,"l":0.1,"h":0.32},{"s":"StateDiff","t":1.5,"m":0.195,"l":0.1,"h":0.35},{"s":"StateDiff","t":1.6,"m":0.213,"l":0.11,"h":0.38},{"s":"StateDiff","t":1.73,"m":0.249,"l":0.12,"h":0.42},{"s":"StateDiff","t":1.86,"m":0.285,"l":0.13,"h":0.46},{"s":"StateDiff","t":1.99,"m":0.31,"l":0.14,"h":0.5},{"s":"StateDiff","t":2.12,"m":0.348,"l":0.15,"h":0.55},{"s":"StateDiff","t":2.25,"m":0.384,"l":0.16,"h":0.6},{"s":"StateDiff","t":2.39,"m":0.375,"l":0.16,"h":0.62},{"s":"StateDiff","t":2.52,"m":0.393,"l":0.17,"h":0.66},{"s":"StateDiff","t":2.65,"m":0.42,"l":0.18,"h":0.7},{"s":"StateDiff","t":2.78,"m":0.447,"l":0.19,"h":0.74},{"s":"StateDiff","t":2.91,"m":0.456,"l":0.2,"h":0.77},{"s":"StateDiff","t":3.04,"m":0.474,"l":0.2,"h":0.8},{"s":"StateDiff","t":3.17,"m":0.5,"l":0.21,"h":0.83},{"s":"StateDiff","t":3.3,"m":0.51,"l":0.22,"h":0.86},{"s":"StateDiff","t":3.43,"m":0.528,"l":0.23,"h":0.88},{"s":"StateDiff","t":3.56,"m":0.555,"l":0.24,"h":0.9},{"s":"StateDiff","t":3.69,"m":0.573,"l":0.25,"h":0.91},{"s":"StateDiff","t":3.82,"m":0.573,"l":0.25,"h":0.92},{"s":"StateDiff","t":3.95,"m":0.577,"l":0.26,"h":0.92},{"s":"StateDiff","t":4.08,"m":0.582,"l":0.27,"h":0.93},{"s":"StateDiff","t":4.22,"m":0.6,"l":0.28,"h":0.93},{"s":"StateDiff","t":4.35,"m":0.59,"l":0.28,"h":0.92},{"s":"StateDiff","t":4.48,"m":0.59,"l":0.29,"h":0.93},{"s":"StateDiff","t":4.61,"m":0.609,"l":0.3,"h":0.94},{"s":"StateDiff","t":4.71,"m":0.636,"l":0.31,"h":0.94},{"s":"StateDiff","t":4.8,"m":0.6,"l":0.31,"h":0.9},{"s":"StateDiff","t":4.9,"m":0.609,"l":0.3,"h":0.89}
],
"K": [
{"s":"SAC","t":0.07,"m":0.003,"l":0,"h":0.02},{"s":"SAC","t":0.12,"m":0.03,"l":0.005,"h":0.055},{"s":"SAC","t":0.2,"m":0.01,"l":0,"h":0.035},{"s":"SAC","t":0.3,"m":0.017,"l":0,"h":0.042},{"s":"SAC","t":0.4,"m":0.01,"l":0,"h":0.035},{"s":"SAC","t":0.53,"m":0.015,"l":0,"h":0.04},{"s":"SAC","t":0.67,"m":0.025,"l":0,"h":0.05},{"s":"SAC","t":0.8,"m":0.03,"l":0.005,"h":0.055},{"s":"SAC","t":0.93,"m":0.036,"l":0.011,"h":0.061},{"s":"SAC","t":1.07,"m":0.04,"l":0.015,"h":0.065},{"s":"SAC","t":1.2,"m":0.04,"l":0.015,"h":0.065},{"s":"SAC","t":1.33,"m":0.044,"l":0.019,"h":0.069},{"s":"SAC","t":1.47,"m":0.05,"l":0.025,"h":0.075},{"s":"SAC","t":1.6,"m":0.054,"l":0.029,"h":0.079},{"s":"SAC","t":1.73,"m":0.066,"l":0.041,"h":0.091},{"s":"SAC","t":1.87,"m":0.069,"l":0.044,"h":0.094},{"s":"SAC","t":1.97,"m":0.074,"l":0.049,"h":0.099},{"s":"SAC","t":2.07,"m":0.064,"l":0.039,"h":0.089},{"s":"SAC","t":2.2,"m":0.069,"l":0.044,"h":0.094},{"s":"SAC","t":2.33,"m":0.062,"l":0.037,"h":0.087},{"s":"SAC","t":2.47,"m":0.069,"l":0.044,"h":0.094},{"s":"SAC","t":2.6,"m":0.074,"l":0.049,"h":0.099},{"s":"SAC","t":2.73,"m":0.069,"l":0.044,"h":0.094},{"s":"SAC","t":2.87,"m":0.079,"l":0.054,"h":0.104},{"s":"SAC","t":3.0,"m":0.084,"l":0.059,"h":0.109},{"s":"SAC","t":3.13,"m":0.094,"l":0.069,"h":0.119},{"s":"SAC","t":3.27,"m":0.1,"l":0.075,"h":0.125},{"s":"SAC","t":3.4,"m":0.089,"l":0.064,"h":0.114},{"s":"SAC","t":3.53,"m":0.1,"l":0.075,"h":0.125},{"s":"SAC","t":3.67,"m":0.103,"l":0.078,"h":0.128},{"s":"SAC","t":3.8,"m":0.094,"l":0.069,"h":0.119},{"s":"SAC","t":3.93,"m":0.084,"l":0.059,"h":0.109},{"s":"SAC","t":4.07,"m":0.094,"l":0.069,"h":0.119},{"s":"SAC","t":4.2,"m":0.108,"l":0.083,"h":0.133},{"s":"SAC","t":4.3,"m":0.103,"l":0.078,"h":0.128},{"s":"SAC","t":4.43,"m":0.113,"l":0.088,"h":0.138},{"s":"SAC","t":4.53,"m":0.123,"l":0.098,"h":0.148},{"s":"SAC","t":4.63,"m":0.103,"l":0.078,"h":0.128},{"s":"SAC","t":4.73,"m":0.113,"l":0.088,"h":0.138},{"s":"SAC","t":4.83,"m":0.118,"l":0.093,"h":0.143},{"s":"SAC","t":4.9,"m":0.098,"l":0.073,"h":0.123},{"s":"SAC","t":4.97,"m":0.108,"l":0.083,"h":0.133},
{"s":"SAC+ActRepeat","t":0.07,"m":0.003,"l":0,"h":0.01},{"s":"SAC+ActRepeat","t":0.27,"m":0.007,"l":0,"h":0.02},{"s":"SAC+ActRepeat","t":0.47,"m":0.02,"l":0,"h":0.045},{"s":"SAC+ActRepeat","t":0.67,"m":0.035,"l":0.005,"h":0.065},{"s":"SAC+ActRepeat","t":0.8,"m":0.044,"l":0.01,"h":0.08},{"s":"SAC+ActRepeat","t":1.0,"m":0.04,"l":0.01,"h":0.075},{"s":"SAC+ActRepeat","t":1.2,"m":0.044,"l":0.01,"h":0.08},{"s":"SAC+ActRepeat","t":1.4,"m":0.05,"l":0.015,"h":0.085},{"s":"SAC+ActRepeat","t":1.6,"m":0.054,"l":0.015,"h":0.095},{"s":"SAC+ActRepeat","t":1.8,"m":0.054,"l":0.015,"h":0.1},{"s":"SAC+ActRepeat","t":2.0,"m":0.06,"l":0.02,"h":0.105},{"s":"SAC+ActRepeat","t":2.2,"m":0.064,"l":0.02,"h":0.11},{"s":"SAC+ActRepeat","t":2.4,"m":0.07,"l":0.025,"h":0.12},{"s":"SAC+ActRepeat","t":2.6,"m":0.074,"l":0.025,"h":0.125},{"s":"SAC+ActRepeat","t":2.8,"m":0.08,"l":0.03,"h":0.135},{"s":"SAC+ActRepeat","t":3.0,"m":0.084,"l":0.03,"h":0.145},{"s":"SAC+ActRepeat","t":3.2,"m":0.086,"l":0.03,"h":0.15},{"s":"SAC+ActRepeat","t":3.4,"m":0.089,"l":0.03,"h":0.16},{"s":"SAC+ActRepeat","t":3.6,"m":0.094,"l":0.035,"h":0.17},{"s":"SAC+ActRepeat","t":3.8,"m":0.1,"l":0.04,"h":0.18},{"s":"SAC+ActRepeat","t":4.0,"m":0.108,"l":0.045,"h":0.19},{"s":"SAC+ActRepeat","t":4.2,"m":0.113,"l":0.05,"h":0.195},{"s":"SAC+ActRepeat","t":4.4,"m":0.123,"l":0.055,"h":0.2},{"s":"SAC+ActRepeat","t":4.6,"m":0.126,"l":0.06,"h":0.205},{"s":"SAC+ActRepeat","t":4.8,"m":0.13,"l":0.06,"h":0.21},{"s":"SAC+ActRepeat","t":4.97,"m":0.133,"l":0.06,"h":0.215},
{"s":"HiPPO","t":0.07,"m":0,"l":0,"h":0},{"s":"HiPPO","t":2.5,"m":0,"l":0,"h":0},{"s":"HiPPO","t":4.97,"m":0,"l":0,"h":0},
{"s":"HIRO","t":0.07,"m":0,"l":0,"h":0.005},{"s":"HIRO","t":1.0,"m":0,"l":0,"h":0.005},{"s":"HIRO","t":1.6,"m":0.003,"l":0,"h":0.012},{"s":"HIRO","t":1.8,"m":0.01,"l":0,"h":0.022},{"s":"HIRO","t":1.93,"m":0.015,"l":0.003,"h":0.027},{"s":"HIRO","t":2.07,"m":0.007,"l":0,"h":0.019},{"s":"HIRO","t":2.2,"m":0.015,"l":0.003,"h":0.027},{"s":"HIRO","t":2.33,"m":0.02,"l":0.008,"h":0.032},{"s":"HIRO","t":2.41,"m":0.03,"l":0.018,"h":0.042},{"s":"HIRO","t":2.53,"m":0.015,"l":0.003,"h":0.027},{"s":"HIRO","t":2.67,"m":0.003,"l":0,"h":0.015},{"s":"HIRO","t":2.8,"m":0.015,"l":0.003,"h":0.027},{"s":"HIRO","t":2.93,"m":0.022,"l":0.01,"h":0.034},{"s":"HIRO","t":3.07,"m":0.01,"l":0,"h":0.022},{"s":"HIRO","t":3.2,"m":0.015,"l":0.003,"h":0.027},{"s":"HIRO","t":3.33,"m":0.003,"l":0,"h":0.015},{"s":"HIRO","t":3.47,"m":0.015,"l":0.003,"h":0.027},{"s":"HIRO","t":3.6,"m":0.003,"l":0,"h":0.015},{"s":"HIRO","t":3.73,"m":0.01,"l":0,"h":0.022},{"s":"HIRO","t":3.87,"m":0.003,"l":0,"h":0.015},{"s":"HIRO","t":4.0,"m":0.01,"l":0,"h":0.022},{"s":"HIRO","t":4.1,"m":0.005,"l":0,"h":0.017},{"s":"HIRO","t":4.19,"m":0.032,"l":0.02,"h":0.044},{"s":"HIRO","t":4.27,"m":0.015,"l":0.003,"h":0.027},{"s":"HIRO","t":4.4,"m":0.003,"l":0,"h":0.015},{"s":"HIRO","t":4.53,"m":0.01,"l":0,"h":0.022},{"s":"HIRO","t":4.67,"m":0.003,"l":0,"h":0.015},{"s":"HIRO","t":4.8,"m":0.015,"l":0.003,"h":0.027},{"s":"HIRO","t":4.9,"m":0.025,"l":0.013,"h":0.037},{"s":"HIRO","t":4.97,"m":0.01,"l":0,"h":0.022},
{"s":"Action","t":0.07,"m":0.003,"l":0,"h":0.01},{"s":"Action","t":0.5,"m":0,"l":0,"h":0.005},{"s":"Action","t":1.0,"m":0,"l":0,"h":0.005},{"s":"Action","t":1.5,"m":0,"l":0,"h":0.005},{"s":"Action","t":1.8,"m":0.003,"l":0,"h":0.01},{"s":"Action","t":1.93,"m":0.017,"l":0,"h":0.04},{"s":"Action","t":2.07,"m":0.025,"l":0,"h":0.06},{"s":"Action","t":2.2,"m":0.044,"l":0,"h":0.1},{"s":"Action","t":2.3,"m":0.069,"l":0,"h":0.14},{"s":"Action","t":2.43,"m":0.084,"l":0,"h":0.18},{"s":"Action","t":2.6,"m":0.084,"l":0,"h":0.2},{"s":"Action","t":2.77,"m":0.084,"l":0,"h":0.22},{"s":"Action","t":2.93,"m":0.089,"l":0,"h":0.26},{"s":"Action","t":3.03,"m":0.103,"l":0.01,"h":0.3},{"s":"Action","t":3.13,"m":0.143,"l":0.03,"h":0.36},{"s":"Action","t":3.2,"m":0.197,"l":0.06,"h":0.4},{"s":"Action","t":3.3,"m":0.197,"l":0.07,"h":0.42},{"s":"Action","t":3.4,"m":0.232,"l":0.1,"h":0.43},{"s":"Action","t":3.5,"m":0.261,"l":0.12,"h":0.44},{"s":"Action","t":3.63,"m":0.29,"l":0.15,"h":0.45},{"s":"Action","t":3.73,"m":0.266,"l":0.14,"h":0.43},{"s":"Action","t":3.83,"m":0.232,"l":0.12,"h":0.4},{"s":"Action","t":3.9,"m":0.261,"l":0.14,"h":0.42},{"s":"Action","t":4.0,"m":0.251,"l":0.14,"h":0.41},{"s":"Action","t":4.1,"m":0.266,"l":0.15,"h":0.42},{"s":"Action","t":4.2,"m":0.276,"l":0.16,"h":0.43},{"s":"Action","t":4.3,"m":0.29,"l":0.17,"h":0.44},{"s":"Action","t":4.4,"m":0.31,"l":0.19,"h":0.45},{"s":"Action","t":4.47,"m":0.35,"l":0.22,"h":0.47},{"s":"Action","t":4.57,"m":0.32,"l":0.2,"h":0.46},{"s":"Action","t":4.67,"m":0.32,"l":0.2,"h":0.46},{"s":"Action","t":4.77,"m":0.335,"l":0.21,"h":0.46},{"s":"Action","t":4.87,"m":0.34,"l":0.21,"h":0.47},{"s":"Action","t":4.97,"m":0.34,"l":0.21,"h":0.47},
{"s":"StateAction","t":0.07,"m":0.003,"l":0,"h":0.01},{"s":"StateAction","t":0.5,"m":0,"l":0,"h":0.005},{"s":"StateAction","t":1.0,"m":0,"l":0,"h":0.005},{"s":"StateAction","t":1.5,"m":0,"l":0,"h":0.005},{"s":"StateAction","t":1.67,"m":0.003,"l":0,"h":0.01},{"s":"StateAction","t":1.8,"m":0.01,"l":0,"h":0.025},{"s":"StateAction","t":1.93,"m":0.015,"l":0,"h":0.035},{"s":"StateAction","t":2.07,"m":0.02,"l":0,"h":0.045},{"s":"StateAction","t":2.17,"m":0.03,"l":0.005,"h":0.06},{"s":"StateAction","t":2.27,"m":0.04,"l":0.01,"h":0.07},{"s":"StateAction","t":2.4,"m":0.04,"l":0.01,"h":0.075},{"s":"StateAction","t":2.53,"m":0.05,"l":0.015,"h":0.09},{"s":"StateAction","t":2.67,"m":0.06,"l":0.02,"h":0.1},{"s":"StateAction","t":2.8,"m":0.07,"l":0.025,"h":0.115},{"s":"StateAction","t":2.93,"m":0.08,"l":0.03,"h":0.13},{"s":"StateAction","t":3.07,"m":0.1,"l":0.045,"h":0.155},{"s":"StateAction","t":3.2,"m":0.113,"l":0.055,"h":0.17},{"s":"StateAction","t":3.33,"m":0.133,"l":0.07,"h":0.195},{"s":"StateAction","t":3.47,"m":0.153,"l":0.085,"h":0.22},{"s":"StateAction","t":3.6,"m":0.158,"l":0.09,"h":0.23},{"s":"StateAction","t":3.73,"m":0.182,"l":0.11,"h":0.255},{"s":"StateAction","t":3.87,"m":0.202,"l":0.13,"h":0.275},{"s":"StateAction","t":3.97,"m":0.227,"l":0.15,"h":0.3},{"s":"StateAction","t":4.07,"m":0.207,"l":0.135,"h":0.28},{"s":"StateAction","t":4.17,"m":0.227,"l":0.155,"h":0.3},{"s":"StateAction","t":4.3,"m":0.241,"l":0.17,"h":0.315},{"s":"StateAction","t":4.43,"m":0.256,"l":0.18,"h":0.33},{"s":"StateAction","t":4.57,"m":0.266,"l":0.19,"h":0.345},{"s":"StateAction","t":4.67,"m":0.271,"l":0.195,"h":0.35},{"s":"StateAction","t":4.8,"m":0.281,"l":0.2,"h":0.36},{"s":"StateAction","t":4.97,"m":0.293,"l":0.21,"h":0.375},
{"s":"StateDiff","t":0.07,"m":0.01,"l":0,"h":0.03},{"s":"StateDiff","t":0.17,"m":0,"l":0,"h":0.01},{"s":"StateDiff","t":0.27,"m":0.01,"l":0,"h":0.025},{"s":"StateDiff","t":0.4,"m":0.003,"l":0,"h":0.01},{"s":"StateDiff","t":0.6,"m":0.003,"l":0,"h":0.01},{"s":"StateDiff","t":0.8,"m":0.003,"l":0,"h":0.01},{"s":"StateDiff","t":1.0,"m":0.003,"l":0,"h":0.01},{"s":"StateDiff","t":1.2,"m":0,"l":0,"h":0.005},{"s":"StateDiff","t":1.4,"m":0.003,"l":0,"h":0.01},{"s":"StateDiff","t":1.53,"m":0.017,"l":0,"h":0.04},{"s":"StateDiff","t":1.67,"m":0.035,"l":0,"h":0.08},{"s":"StateDiff","t":1.8,"m":0.06,"l":0,"h":0.13},{"s":"StateDiff","t":1.9,"m":0.084,"l":0,"h":0.18},{"s":"StateDiff","t":2.03,"m":0.084,"l":0,"h":0.22},{"s":"StateDiff","t":2.13,"m":0.123,"l":0,"h":0.28},{"s":"StateDiff","t":2.23,"m":0.163,"l":0.01,"h":0.34},{"s":"StateDiff","t":2.37,"m":0.192,"l":0.02,"h":0.39},{"s":"StateDiff","t":2.47,"m":0.222,"l":0.03,"h":0.42},{"s":"StateDiff","t":2.6,"m":0.236,"l":0.04,"h":0.44},{"s":"StateDiff","t":2.73,"m":0.251,"l":0.05,"h":0.46},{"s":"StateDiff","t":2.87,"m":0.266,"l":0.07,"h":0.46},{"s":"StateDiff","t":3.0,"m":0.276,"l":0.09,"h":0.46},{"s":"StateDiff","t":3.13,"m":0.3,"l":0.14,"h":0.46},{"s":"StateDiff","t":3.2,"m":0.34,"l":0.22,"h":0.46},{"s":"StateDiff","t":3.33,"m":0.345,"l":0.24,"h":0.46},{"s":"StateDiff","t":3.47,"m":0.36,"l":0.26,"h":0.46},{"s":"StateDiff","t":3.6,"m":0.355,"l":0.26,"h":0.46},{"s":"StateDiff","t":3.73,"m":0.37,"l":0.28,"h":0.46},{"s":"StateDiff","t":3.87,"m":0.37,"l":0.28,"h":0.46},{"s":"StateDiff","t":4.0,"m":0.374,"l":0.29,"h":0.46},{"s":"StateDiff","t":4.13,"m":0.365,"l":0.28,"h":0.45},{"s":"StateDiff","t":4.23,"m":0.36,"l":0.28,"h":0.45},{"s":"StateDiff","t":4.37,"m":0.394,"l":0.31,"h":0.48},{"s":"StateDiff","t":4.47,"m":0.371,"l":0.29,"h":0.46},{"s":"StateDiff","t":4.63,"m":0.365,"l":0.28,"h":0.46},{"s":"StateDiff","t":4.77,"m":0.37,"l":0.29,"h":0.46},{"s":"StateDiff","t":4.87,"m":0.384,"l":0.3,"h":0.47},{"s":"StateDiff","t":4.97,"m":0.384,"l":0.3,"h":0.47}
]
},
"hconcat": [
{
"width": 271, "height": 204,
"title": "Pusher Success Plot",
"data": {"name": "P"},
"layer": [
{"mark": {"type": "area", "opacity": 0.2},
 "encoding": {
  "x": {"field": "t", "type": "quantitative", "scale": {"domain": [-0.145, 3.113], "nice": false, "zero": false}, "axis": {"orient": "bottom", "title": "1e6", "titleAnchor": "end", "titleAlign": "right", "titleFontSize": 14, "labels": false, "grid": false, "values": [0, 1, 2, 3]}},
  "y": {"field": "l", "type": "quantitative", "stack": null, "scale": {"domain": [-0.05, 1.05], "nice": false, "zero": false}, "axis": {"title": "Success", "values": [0, 0.2, 0.4, 0.6, 0.8, 1.0], "format": ".1f"}},
  "y2": {"field": "h"},
  "fill": {"field": "s", "type": "nominal", "scale": {"domain": ["StateDiff","StateAction","Action","HIRO","HiPPO","SAC+ActRepeat","SAC"], "range": ["#8172B3","#DD8452","#4C72B0","#CCB974","#64B5CD","#8C8C8C","#DA8BC3"]}, "legend": null}
 }},
{"mark": {"type": "line", "strokeWidth": 3.2},
 "encoding": {
  "x": {"field": "t", "type": "quantitative", "scale": {"domain": [-0.145, 3.113], "nice": false, "zero": false}, "axis": {"orient": "bottom", "title": "Num Timesteps", "values": [0, 1, 2, 3], "format": "d"}},
  "y": {"field": "m", "type": "quantitative", "scale": {"domain": [-0.05, 1.05], "nice": false, "zero": false}, "axis": {"title": "Success", "values": [0, 0.2, 0.4, 0.6, 0.8, 1.0], "format": ".1f"}},
  "color": {"field": "s", "type": "nominal", "scale": {"domain": ["SAC","SAC+ActRepeat","HiPPO","HIRO","Action","StateAction","StateDiff"], "range": ["#DA8BC3","#8C8C8C","#64B5CD","#CCB974","#4C72B0","#DD8452","#8172B3"]}, "legend": null},
  "strokeDash": {"field": "s", "type": "nominal", "scale": {"domain": ["SAC","SAC+ActRepeat","HiPPO","HIRO","Action","StateAction","StateDiff"], "range": [[11.8,5.1],[11.8,5.1],[11.8,5.1],[11.8,5.1],[1,0],[1,0],[1,0]]}, "legend": null}
 }}
],
"resolve": {"axis": {"x": "independent"}}
},
{
"width": 271, "height": 204,
"title": "Reacher Success Plot",
"data": {"name": "R"},
"layer": [
{"mark": {"type": "area", "opacity": 0.2},
 "encoding": {
  "x": {"field": "t", "type": "quantitative", "scale": {"domain": [-0.145, 3.113], "nice": false, "zero": false}, "axis": {"orient": "bottom", "title": "1e6", "titleAnchor": "end", "titleAlign": "right", "titleFontSize": 14, "labels": false, "grid": false, "values": [0, 1, 2, 3]}},
  "y": {"field": "l", "type": "quantitative", "stack": null, "scale": {"domain": [-0.05, 1.05], "nice": false, "zero": false}, "axis": {"title": "Success", "values": [0, 0.2, 0.4, 0.6, 0.8, 1.0], "format": ".1f"}},
  "y2": {"field": "h"},
  "fill": {"field": "s", "type": "nominal", "scale": {"domain": ["StateDiff","StateAction","Action","HIRO","HiPPO","SAC+ActRepeat","SAC"], "range": ["#8172B3","#DD8452","#4C72B0","#CCB974","#64B5CD","#8C8C8C","#DA8BC3"]}, "legend": null}
 }},
{"mark": {"type": "line", "strokeWidth": 3.2},
 "encoding": {
  "x": {"field": "t", "type": "quantitative", "scale": {"domain": [-0.145, 3.113], "nice": false, "zero": false}, "axis": {"orient": "bottom", "title": "Num Timesteps", "values": [0, 1, 2, 3], "format": "d"}},
  "y": {"field": "m", "type": "quantitative", "scale": {"domain": [-0.05, 1.05], "nice": false, "zero": false}, "axis": {"title": "Success", "values": [0, 0.2, 0.4, 0.6, 0.8, 1.0], "format": ".1f"}},
  "color": {"field": "s", "type": "nominal", "scale": {"domain": ["SAC","SAC+ActRepeat","HiPPO","HIRO","Action","StateAction","StateDiff"], "range": ["#DA8BC3","#8C8C8C","#64B5CD","#CCB974","#4C72B0","#DD8452","#8172B3"]}, "legend": null},
  "strokeDash": {"field": "s", "type": "nominal", "scale": {"domain": ["SAC","SAC+ActRepeat","HiPPO","HIRO","Action","StateAction","StateDiff"], "range": [[11.8,5.1],[11.8,5.1],[11.8,5.1],[11.8,5.1],[1,0],[1,0],[1,0]]}, "legend": null}
 }}
],
"resolve": {"axis": {"x": "independent"}}
},
{
"width": 271, "height": 204,
"title": "GoalTask Success Plot",
"data": {"name": "G"},
"layer": [
{"mark": {"type": "area", "opacity": 0.2},
 "encoding": {
  "x": {"field": "t", "type": "quantitative", "scale": {"domain": [-0.216, 5.098], "nice": false, "zero": false}, "axis": {"orient": "bottom", "title": "1e6", "titleAnchor": "end", "titleAlign": "right", "titleFontSize": 14, "labels": false, "grid": false, "values": [0, 1, 2, 3, 4, 5]}},
  "y": {"field": "l", "type": "quantitative", "stack": null, "scale": {"domain": [-0.05, 1.05], "nice": false, "zero": false}, "axis": {"title": "Success", "values": [0, 0.2, 0.4, 0.6, 0.8, 1.0], "format": ".1f"}},
  "y2": {"field": "h"},
  "fill": {"field": "s", "type": "nominal", "scale": {"domain": ["StateDiff","StateAction","Action","HIRO","HiPPO","SAC+ActRepeat","SAC"], "range": ["#8172B3","#DD8452","#4C72B0","#CCB974","#64B5CD","#8C8C8C","#DA8BC3"]}, "legend": null}
 }},
{"mark": {"type": "line", "strokeWidth": 3.2},
 "encoding": {
  "x": {"field": "t", "type": "quantitative", "scale": {"domain": [-0.216, 5.098], "nice": false, "zero": false}, "axis": {"orient": "bottom", "title": "Num Timesteps", "values": [0, 1, 2, 3, 4, 5], "format": "d"}},
  "y": {"field": "m", "type": "quantitative", "scale": {"domain": [-0.05, 1.05], "nice": false, "zero": false}, "axis": {"title": "Success", "values": [0, 0.2, 0.4, 0.6, 0.8, 1.0], "format": ".1f"}},
  "color": {"field": "s", "type": "nominal", "scale": {"domain": ["SAC","SAC+ActRepeat","HiPPO","HIRO","Action","StateAction","StateDiff"], "range": ["#DA8BC3","#8C8C8C","#64B5CD","#CCB974","#4C72B0","#DD8452","#8172B3"]}, "legend": null},
  "strokeDash": {"field": "s", "type": "nominal", "scale": {"domain": ["SAC","SAC+ActRepeat","HiPPO","HIRO","Action","StateAction","StateDiff"], "range": [[11.8,5.1],[11.8,5.1],[11.8,5.1],[11.8,5.1],[1,0],[1,0],[1,0]]}, "legend": null}
 }}
],
"resolve": {"axis": {"x": "independent"}}
},
{
"width": 271, "height": 204,
"title": "KickBall Success Plot",
"data": {"name": "K"},
"layer": [
{"mark": {"type": "area", "opacity": 0.2},
 "encoding": {
  "x": {"field": "t", "type": "quantitative", "scale": {"domain": [-0.254, 5.18], "nice": false, "zero": false}, "axis": {"orient": "bottom", "title": "1e6", "titleAnchor": "end", "titleAlign": "right", "titleFontSize": 14, "labels": false, "grid": false, "values": [0, 1, 2, 3, 4, 5]}},
  "y": {"field": "l", "type": "quantitative", "stack": null, "scale": {"domain": [-0.049, 0.553], "nice": false, "zero": false}, "axis": {"title": "Success", "values": [0, 0.1, 0.2, 0.3, 0.4, 0.5], "format": ".1f"}},
  "y2": {"field": "h"},
  "fill": {"field": "s", "type": "nominal", "scale": {"domain": ["StateDiff","StateAction","Action","HIRO","HiPPO","SAC+ActRepeat","SAC"], "range": ["#8172B3","#DD8452","#4C72B0","#CCB974","#64B5CD","#8C8C8C","#DA8BC3"]}, "legend": null}
 }},
{"mark": {"type": "line", "strokeWidth": 3.2},
 "encoding": {
  "x": {"field": "t", "type": "quantitative", "scale": {"domain": [-0.254, 5.18], "nice": false, "zero": false}, "axis": {"orient": "bottom", "title": "Num Timesteps", "values": [0, 1, 2, 3, 4, 5], "format": "d"}},
  "y": {"field": "m", "type": "quantitative", "scale": {"domain": [-0.049, 0.553], "nice": false, "zero": false}, "axis": {"title": "Success", "values": [0, 0.1, 0.2, 0.3, 0.4, 0.5], "format": ".1f"}},
  "color": {"field": "s", "type": "nominal", "scale": {"domain": ["SAC","SAC+ActRepeat","HiPPO","HIRO","Action","StateAction","StateDiff"], "range": ["#DA8BC3","#8C8C8C","#64B5CD","#CCB974","#4C72B0","#DD8452","#8172B3"]}, "legend": {"title": null, "orient": "top-left", "offset": 6, "padding": 6, "rowPadding": 6.7, "symbolType": "M-3.5,0H3.5", "symbolSize": 64, "symbolStrokeWidth": 3.2, "symbolOffset": 8, "labelOffset": 25, "labelFontSize": 14, "labelColor": "#262626", "fillColor": "rgba(234,234,242,0.8)", "strokeColor": "#CCCCCC", "cornerRadius": 3, "zindex": 2}},
  "strokeDash": {"field": "s", "type": "nominal", "scale": {"domain": ["SAC","SAC+ActRepeat","HiPPO","HIRO","Action","StateAction","StateDiff"], "range": [[11.8,5.1],[11.8,5.1],[11.8,5.1],[11.8,5.1],[1,0],[1,0],[1,0]]}, "legend": {"title": null, "orient": "top-left", "offset": 6, "padding": 6, "rowPadding": 6.7, "symbolType": "M-3.5,0H3.5", "symbolSize": 64, "symbolStrokeWidth": 3.2, "symbolOffset": 8, "labelOffset": 25, "labelFontSize": 14, "labelColor": "#262626", "fillColor": "rgba(234,234,242,0.8)", "strokeColor": "#CCCCCC", "cornerRadius": 3, "zindex": 2}}
 }}
],
"resolve": {"axis": {"x": "independent"}}
}
],
"resolve": {"scale": {"color": "independent", "strokeDash": "independent", "fill": "independent"}},
"config": {
 "font": "DejaVu Sans",
 "view": {"fill": "#EAEAF2", "stroke": null},
 "title": {"fontSize": 15.3, "fontWeight": "normal", "color": "#262626", "baseline": "bottom", "offset": 0, "frame": "group", "anchor": "middle"},
 "axis": {"domain": false, "ticks": false, "gridColor": "#FFFFFF", "gridWidth": 1.2, "gridOpacity": 1, "labelFontSize": 14, "labelColor": "#262626", "titleFontSize": 15.3, "titleColor": "#262626", "titleFontWeight": "normal", "labelPadding": 7, "labelFlush": false, "labelOverlap": false},
 "axisX": {"titleY": 34, "titleBaseline": "alphabetic"},
 "axisY": {"titleX": -33, "titleBaseline": "alphabetic"},
 "legend": {"labelFont": "DejaVu Sans"}
}
}
